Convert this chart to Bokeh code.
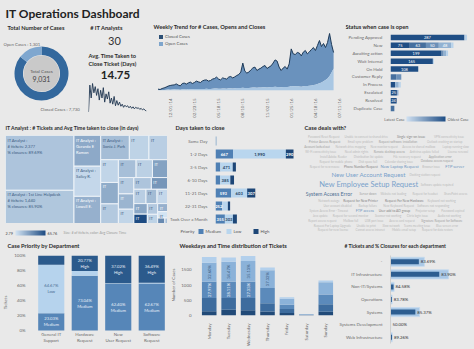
import math
import numpy as np
import pandas as pd
from bokeh.plotting import figure
from bokeh.layouts import row, column
from bokeh.models import (ColumnDataSource, Range1d, FactorRange, Legend, LegendItem,
                          FixedTicker, DatetimeTickFormatter, PrintfTickFormatter,
                          LinearColorMapper)
from bokeh.transform import transform
from bokeh.core.properties import value
from bokeh.embed import file_html
from bokeh.resources import INLINE

# ---------------- DATA ----------------
total_cases = 9031
open_cases = 1301
closed_cases = 7730
it_analysts = 30
avg_close_days = 14.75

spark_avg_days = [3, 55, 30, 58, 40, 52, 35, 48, 26, 45, 30, 50, 22, 38, 28, 42, 20, 30, 18, 33,
                  15, 25, 16, 22, 14, 18, 12, 16, 13, 15, 11, 14, 10, 13, 9, 12, 10, 11, 8, 10,
                  7, 9, 6, 5]

trend_first_week = "2014-10-20"
trend_total = [7, 5, 10, 13, 17, 22, 25, 27, 28, 33,
               27, 23, 35, 37, 32, 38, 42, 35, 40, 47,
               43, 40, 48, 52, 53, 47, 50, 57, 60, 67,
               57, 53, 63, 60, 57, 67, 70, 63, 68, 75,
               80, 92, 137, 97, 87, 92, 103, 113, 117, 100,
               107, 112, 120, 125, 110, 117, 123, 137, 153, 147,
               117, 100, 112, 120, 107, 133, 208, 183, 180, 190,
               187, 173, 192, 200, 183, 193, 205, 215, 200, 225,
               250, 220, 235, 215, 240, 285, 230, 190]
trend_open = [2, 2, 3, 3, 4, 5, 4, 5, 6, 5,
              5, 4, 6, 6, 5, 7, 6, 6, 7, 8,
              7, 7, 8, 8, 9, 8, 8, 9, 10, 10,
              9, 9, 10, 10, 9, 11, 11, 10, 11, 12,
              12, 13, 14, 13, 12, 13, 14, 15, 15, 14,
              15, 15, 16, 16, 15, 16, 17, 18, 19, 18,
              17, 16, 17, 18, 17, 19, 22, 21, 21, 22,
              20, 19, 21, 22, 22, 24, 25, 27, 29, 32,
              36, 40, 46, 52, 60, 72, 90, 110]
trend_tick_dates = ["2014-12-01", "2015-02-23", "2015-05-18", "2015-08-10",
                    "2015-11-02", "2016-01-25", "2016-04-18", "2016-07-11"]

status_names = ["Pending Approval", "New", "Awaiting action", "Wait Internal", "On Hold",
                "Customer Reply", "In Process", "Escalated", "Resolved", "Duplicate Case"]
status_oldest = [287, 75, 199, 165, 108, 0, 18, 25, 24, 0]
status_older = [0, 63, 0, 0, 0, 22, 0, 0, 0, 15]
status_mid = [0, 50, 8, 0, 0, 20, 0, 0, 0, 0]
status_recent = [5, 48, 10, 0, 0, 0, 14, 6, 0, 0]
status_latest = [6, 9, 7, 4, 0, 0, 8, 0, 0, 0]

analyst_names = ["", "1st Line Helpdesk", "Gerardo E Ramon", "Sailey R.", "Lowell E.", "Sonia J. Park",
                 "Andrea K.", "Bruno T.", "Carla V.", "Wilfredo", "Dmitri P.", "Elena S.", "Farid H.",
                 "Grace L.", "Hiro N.", "Ines B.", "Jonas W.", "Kira O.", "Luis F.", "Maya D.",
                 "Nate C.", "Olga R.", "Pavel Z.", "Quinn A.", "Rosa G.", "Sam Y.", "Tariq J.",
                 "Uma X.", "Victor Q.", "Wendy U."]
analyst_tickets = [2377, 1440, 520, 510, 460, 440, 300, 285, 255, 240, 220, 200, 185, 170, 160,
                   150, 140, 130, 120, 110, 100, 95, 90, 80, 70, 60, 50, 40, 25, 9]
analyst_avg_days = [16, 15, 27, 8, 24, 19, 10, 12, 9, 26, 14, 18, 11, 30, 13, 22, 9, 16, 35, 12,
                    20, 8, 28, 65.76, 14, 10, 24, 2.79, 40, 18]
analyst_closure_pct = [89.69, 85.90, 84.10, 91.20, 83.50, 86.40, 88.00, 87.30, 90.10, 82.60,
                       85.50, 86.90, 88.40, 81.20, 87.70, 84.00, 89.30, 86.10, 80.80, 88.20,
                       85.00, 90.50, 83.30, 75.00, 86.60, 88.90, 84.40, 95.00, 80.00, 77.80]

days_buckets = ["Same Day", "1-2 Days", "3-5 Days", "6-10 Days", "11-21 Days", "22-31 Days",
                "Took Over a Month"]
days_medium = [14, 667, 180, 175, 593, 252, 355]
days_low = [22, 1990, 471, 385, 603, 215, 303]
days_high = [6, 290, 120, 140, 307, 85, 150]

word_phrases = ["Password Reset Request", "Unable to connect to shared drive", "Single sign-on issue",
                "VPN connectivity issue", "Printer Access Request", "Email sync problem",
                "Request software installation", "Outlook crashing on startup", "Account locked out",
                "Network drive mapping", "New monitor request", "Access to shared mailbox",
                "Laptop running slow", "Wi-Fi connectivity issue", "Need admin rights",
                "Remote desktop access", "Antivirus update failed", "License renewal",
                "Install Adobe Reader", "Distribution list update", "File recovery request",
                "Application error", "Request for mobile phone", "Disk space full",
                "Calendar sharing issue", "Database access request", "Request for new mouse",
                "Phone Number Request", "New Laptop Request", "Browser issue", "FTP server",
                "New User Account Request", "Docking station request", "New Employee Setup Request",
                "Software update required", "System Access Error", "Server down",
                "Website not loading", "Request for headset", "SharePoint access", "Network outage",
                "Request for New Printer", "Request For New Hardware", "Keyboard not working",
                "User account disabled", "Backup failure", "New Keyboard Request",
                "Software not responding", "System Access Error - Timeout", "FTP access",
                "User add to AD group", "Projector setup", "Password expired", "Java update",
                "Request for second monitor", "Scanner not working", "Citrix login issue",
                "Audio not working", "Report access request", "Mailbox full", "USB port issue",
                "Access card request", "Signature Request for Software", "Request For Laptop Upgrade",
                "Unable to print", "Slow network", "Teams meeting issue", "Blue screen error",
                "Request for new license", "Cannot access intranet", "Mobile email setup",
                "Request for data restore"]
word_counts = [8, 7, 22, 9, 16, 10, 12, 6, 11, 8, 7, 10, 9, 8, 7, 12, 8, 7, 9, 8, 10, 13, 7, 8, 6,
               11, 6, 19, 55, 7, 48, 130, 8, 180, 7, 95, 12, 8, 6, 9, 10, 20, 18, 7, 8, 9, 10, 9, 6,
               40, 21, 6, 10, 6, 8, 7, 9, 6, 8, 7, 6, 8, 11, 9, 7, 6, 8, 9, 7, 8, 6, 7]

prio_depts = ["General IT Support", "Hardware Request", "New User Request", "Software Request"]
prio_medium = [23.03, 73.04, 62.40, 62.67]
prio_low = [64.67, 6.19, 0.58, 0.84]
prio_high = [12.30, 20.77, 37.02, 36.49]

weekdays = ["Monday", "Tuesday", "Wednesday", "Thursday", "Friday", "Saturday", "Sunday"]
wd_slot1 = [140, 190, 170, 130, 80, 10, 120]
wd_slot2 = [430, 380, 400, 270, 130, 10, 250]
wd_slot3 = [537, 534, 533, 499, 140, 10, 320]
wd_slot4 = [626, 655, 685, 586, 200, 8, 400]
wd_slot5 = [187, 141, 162, 85, 50, 4, 60]

dept_names = ["-", "IT Infrastructure", "Non-IT/Systems", "Operations", "Systems",
              "Systems Development", "Web Infrastructure"]
dept_tickets = [2379, 4080, 253, 111, 2044, 10, 121]
dept_closed = [1991, 3423, 214, 93, 1745, 5, 108]

# ---------------- STYLE ----------------
FONT = "Lato"
BG = "#e9e9e9"
TITLE_C = "#2b2b2b"
AX_C = "#6b6b6b"
TSIZE = "5.7px"
LSTY = {"background-color": BG}


def interp(c1, c2, n):
    a = [int(c1[i:i + 2], 16) for i in (1, 3, 5)]
    b = [int(c2[i:i + 2], 16) for i in (1, 3, 5)]
    return ["#%02x%02x%02x" % tuple(round(a[k] + (b[k] - a[k]) * t / (n - 1)) for k in range(3))
            for t in range(n)]


def make_fig(w, h, l=0, r=0, t=0, b=0, **kw):
    kw.setdefault("x_axis_location", None)
    kw.setdefault("y_axis_location", None)
    p = figure(width=w, height=h, output_backend="svg", toolbar_location=None,
               min_border_left=l, min_border_right=r, min_border_top=t, min_border_bottom=b,
               background_fill_color=BG, border_fill_color=BG, outline_line_color=None, **kw)
    p.grid.visible = False
    if "frame_align" in p.properties():
        p.frame_align = False
    return p


def pix_fig(w, h):
    return make_fig(w, h, x_range=Range1d(0, w), y_range=Range1d(0, h))


def ptext(p, X, Y, txt, size, bold=False, color="#555555", align="left", baseline="middle"):
    p.text(x=[X], y=[p.height - Y], text=[txt], text_font=value(FONT), text_font_size=value(size),
           text_font_style="bold" if bold else "normal", text_color=color,
           text_align=align, text_baseline=baseline)


def title_fig(w, h, txt, X, Y, size=TSIZE):
    p = pix_fig(w, h)
    ptext(p, X, Y, txt, size, bold=True, color=TITLE_C)
    return p


def style_axis(ax, size="4.5px", standoff=2):
    ax.axis_line_color = None
    ax.major_tick_line_color = None
    ax.minor_tick_line_color = None
    ax.major_label_text_font = FONT
    ax.major_label_text_font_size = size
    ax.major_label_text_color = AX_C
    ax.major_label_standoff = standoff


def grad_bar(p, mapper, X, Ytop, w, h):
    # colour-ramp legend drawn from the colour mapper itself
    ramp = np.linspace(mapper.low, mapper.high, 128).reshape(1, -1)
    p.image(image=[ramp], x=X, y=p.height - Ytop - h, dw=w, dh=h, color_mapper=mapper)


def lay(kind, *kids):
    return kind(*kids, styles=LSTY)


# ---------------- ROW 1 ----------------
head = pix_fig(150, 22)
ptext(head, 5, 13, "IT Operations Dashboard", "12px", bold=True, color="#222222")

donut = pix_fig(85, 100)
ptext(donut, 7, 5, "Total Number of Cases", TSIZE, bold=True, color=TITLE_C)
a0 = math.pi / 2
a1 = a0 - 2 * math.pi * closed_cases / total_cases
a2 = a1 - 2 * math.pi * open_cases / total_cases
donut.annular_wedge(x=[41, 41], y=[100 - 51, 100 - 51], inner_radius=18.5, outer_radius=27,
                    inner_radius_units="screen", outer_radius_units="screen",
                    start_angle=[a0, a1], end_angle=[a1, a2], direction="clock",
                    fill_color=["#33689d", "#7fa7cf"], line_color=None)
donut.circle(x=[41], y=[100 - 51], radius=18, radius_units="screen", fill_color="#c9c9c9",
             line_color=None)
ptext(donut, 41, 48, "Total Cases", "4.6px", color="#555555", align="center")
ptext(donut, 41, 56, f"{total_cases:,}", "7px", color="#444444", align="center")
ptext(donut, 3, 22, f"Open Cases : {open_cases:,}", "4.3px", color="#666666")
ptext(donut, 40, 87, f"Closed Cases : {closed_cases:,}", "4.3px", color="#666666")

kpi = pix_fig(65, 58)
ptext(kpi, 21, 5, "# IT Analysts", TSIZE, bold=True, color=TITLE_C, align="center")
ptext(kpi, 29, 18, f"{it_analysts}", "11px", color="#333333", align="center")
ptext(kpi, 27, 33, "Avg. Time Taken to", TSIZE, bold=True, color=TITLE_C, align="center")
ptext(kpi, 27, 40.5, "Close Ticket (Days)", TSIZE, bold=True, color=TITLE_C, align="center")
ptext(kpi, 30, 52, f"{avg_close_days:.2f}", "11.5px", bold=True, color="#222222", align="center")

spark = make_fig(65, 42, l=3, r=4, t=2, b=9, x_range=Range1d(0, len(spark_avg_days) - 1),
                 y_range=Range1d(0, 60))
spark.line(x=list(range(len(spark_avg_days))), y=spark_avg_days, line_color="#1f3650", line_width=0.9)

left_block = lay(column, head, lay(row, donut, lay(column, kpi, spark)))

# weekly trend
n_tr = len(trend_total)
trend_dates = pd.date_range(trend_first_week, periods=n_tr, freq="7D")
src_tr = ColumnDataSource(dict(date=trend_dates, zero=[0] * n_tr, open=trend_open, total=trend_total))
wk = make_fig(195, 91, l=7, r=5, t=0, b=32, x_axis_type="datetime", x_axis_location="below",
              x_range=Range1d(pd.Timestamp("2014-10-18").to_pydatetime(),
                              pd.Timestamp("2016-07-14").to_pydatetime()),
              y_range=Range1d(0, 295))
wk.varea(x="date", y1="open", y2="total", source=src_tr, fill_color="#6a92bd")
wk.varea(x="date", y1="zero", y2="open", source=src_tr, fill_color="#a9c7e3")
wk.line(x="date", y="total", source=src_tr, line_color="#1d3957", line_width=1)
ax = wk.xaxis[0]
ax.ticker = FixedTicker(ticks=[pd.Timestamp(d).value // 10 ** 6 for d in trend_tick_dates])
fmt = "%m/%d/%y"
ax.formatter = DatetimeTickFormatter(microseconds=fmt, milliseconds=fmt, seconds=fmt, minsec=fmt,
                                     minutes=fmt, hourmin=fmt, hours=fmt, days=fmt, months=fmt,
                                     years=fmt)
ax.major_label_orientation = math.pi / 2
style_axis(ax, "4.4px")
swatch = ColumnDataSource(dict(l=[pd.Timestamp("2014-01-01")], r=[pd.Timestamp("2014-01-08")],
                               t=[1], b=[0]))
q_closed = wk.quad(left="l", right="r", top="t", bottom="b", source=swatch, fill_color="#2c4f75",
                   line_color=None)
q_open = wk.quad(left="l", right="r", top="t", bottom="b", source=swatch, fill_color="#7ea5cc",
                 line_color=None)
wk.add_layout(Legend(items=[LegendItem(label="Closed Cases", renderers=[q_closed]),
                            LegendItem(label="Open Cases", renderers=[q_open])],
                     location=(1, 44), orientation="vertical", glyph_width=5, glyph_height=5,
                     label_text_font=FONT, label_text_font_size="4.3px", label_text_color="#555555",
                     label_standoff=2, label_height=5, label_width=1, spacing=2, padding=0, margin=0,
                     background_fill_alpha=0, border_line_alpha=0))
wk_block = lay(column, title_fig(195, 31, "Weekly Trend for # Cases, Opens and Closes", 3, 26), wk)

# status
age_cols = ["oldest", "older", "mid", "recent", "latest"]
age_colors = interp("#1f4e85", "#b9d3eb", 5)
src_st = ColumnDataSource(dict(status=status_names, oldest=status_oldest, older=status_older,
                               mid=status_mid, recent=status_recent, latest=status_latest))
st = make_fig(129, 79, l=38, r=0, t=0, b=0, y_axis_location="left",
              y_range=FactorRange(factors=status_names[::-1]), x_range=Range1d(0, 327))
st.hbar_stack(age_cols, y="status", height=0.7, color=age_colors, source=src_st, line_color=None)
style_axis(st.yaxis[0], "4.4px", 2)
lx, ly, lt = [], [], []
for i, s in enumerate(status_names):
    acc = 0
    for arr in (status_oldest, status_older, status_mid, status_recent, status_latest):
        v = arr[i]
        if v >= 24:
            lx.append(acc + v / 2); ly.append(s); lt.append(str(v))
        acc += v
st.text(x=lx, y=ly, text=lt, text_font=value(FONT), text_font_size=value("4px"), text_color="white",
        text_align="center", text_baseline="middle")
st_leg = pix_fig(129, 10)
st_mapper = LinearColorMapper(palette=interp("#cfe0f1", "#1f4e85", 256), low=0, high=1)
grad_bar(st_leg, st_mapper, 61, 2, 39, 5)
ptext(st_leg, 59, 4.5, "Latest Case", "4px", color="#666666", align="right")
ptext(st_leg, 102, 4.5, "Oldest Case", "4px", color="#666666")
st_block = lay(column, title_fig(129, 33, "Status when case is open", 0, 26), st, st_leg)

row1 = lay(row, left_block, wk_block, st_block)

# ---------------- ROW 2 ----------------
def squarify(vals, x, y, w, h):
    rects = []
    vals = list(vals)

    def worst(r, s):
        tot = sum(r)
        return max(max(s * s * v / (tot * tot), (tot * tot) / (s * s * v)) for v in r)

    while vals:
        short = min(w, h)
        rw = [vals[0]]
        i = 1
        while i < len(vals) and worst(rw + [vals[i]], short) <= worst(rw, short):
            rw.append(vals[i]); i += 1
        tot = sum(rw)
        if w >= h:
            cw = tot / h; cy = y
            for v in rw:
                ch = v / cw
                rects.append((x, cy, cw, ch)); cy += ch
            x += cw; w -= cw
        else:
            rh = tot / w; cx = x
            for v in rw:
                cwid = v / rh
                rects.append((cx, y, cwid, rh)); cx += cwid
            y += rh; h -= rh
        vals = vals[i:]
    return rects


TW, TH = 162, 88
tree = make_fig(167, 88, l=5, r=0, t=0, b=0, x_range=Range1d(0, TW), y_range=Range1d(TH, 0))
scale = TW * TH / sum(analyst_tickets)
rects = squarify([v * scale for v in analyst_tickets], 0, 0, TW, TH)
tree_mapper = LinearColorMapper(palette=interp("#d3e4f3", "#1d4b82", 256), low=2.79, high=65.76)
src_tree = ColumnDataSource(dict(left=[r[0] for r in rects], right=[r[0] + r[2] for r in rects],
                                 top=[r[1] for r in rects], bottom=[r[1] + r[3] for r in rects],
                                 days=analyst_avg_days))
tree.quad(left="left", right="right", top="top", bottom="bottom", source=src_tree,
          fill_color=transform("days", tree_mapper), line_color="#eef3f8", line_width=1)

CW = 1.95  # approx. width of one character at the treemap font size


def fits(line, w):
    return len(line) * CW + 2.5 <= w


def wrap(name, w):
    out, cur = [], ""
    for wd in name.split():
        cand = (cur + " " + wd).strip()
        if cur and not fits(cand, w):
            out.append(cur); cur = wd
        else:
            cur = cand
    if cur:
        out.append(cur)
    return out


tx, ty, tt, tc = [], [], [], []
for (x, y, w, h), nm, tk, pc, dd in zip(rects, analyst_names, analyst_tickets, analyst_closure_pct,
                                        analyst_avg_days):
    nl = wrap(nm, w)
    if w > 50 and h > 20:
        lines = [f"IT Analyst : {nm}".rstrip(), f"# tickets: {tk:,}", f"% closures: {pc:.2f}%"]
    elif fits("IT Analyst :", w) and h > 5 * (1 + len(nl)) and all(fits(s, w) for s in nl):
        lines = ["IT Analyst :"] + nl
    elif fits("IT Analyst", w) and h > 6:
        lines = ["IT Analyst"]
    elif fits("IT", w) and h > 6:
        lines = ["IT"]
    else:
        lines = []
    if lines:
        tx.append(x + 2); ty.append(y + 2); tt.append("\n".join(lines))
        tc.append("white" if dd > 21 else "#3a5a80")
tree.text(x=tx, y=ty, text=tt, text_color=tc, text_font=value(FONT), text_font_size=value("4.1px"),
          text_align="left", text_baseline="top")
tree_leg = pix_fig(167, 15)
grad_bar(tree_leg, tree_mapper, 15, 7, 30, 5)
ptext(tree_leg, 5, 9.5, "2.79", "3.8px", color="#444444")
ptext(tree_leg, 47, 9.5, "65.76", "3.8px", color="#444444")
ptext(tree_leg, 63, 9.5, "Size: # of tickets, color: Avg Closure Time", "3.5px", color="#9a9a9a")
tree_block = lay(column, title_fig(167, 13, "IT Analyst : # Tickets and Avg Time taken to close (in days)",
                                   5, 5, "5.2px"), tree, tree_leg)

# days taken to close
C_MED, C_LOW, C_HIGH = "#4f80b4", "#b9d6ee", "#1d4677"
src_d = ColumnDataSource(dict(bucket=days_buckets, Medium=days_medium, Low=days_low, High=days_high))
dy = make_fig(133, 91, l=43, r=4, t=0, b=0, y_axis_location="left",
              y_range=FactorRange(factors=days_buckets[::-1]), x_range=Range1d(0, 3060))
dy.hbar_stack(["Medium", "Low", "High"], y="bucket", height=0.68,
              color=[C_MED, C_LOW, C_HIGH], source=src_d, line_color=None)
style_axis(dy.yaxis[0], "4.4px", 2)
dx_, dy_, dt_, dc_ = [], [], [], []
for i, bkt in enumerate(days_buckets):
    acc = 0
    for arr, col in ((days_medium, "white"), (days_low, "#1f3f60"), (days_high, "white")):
        v = arr[i]
        if v >= 250:
            dx_.append(acc + v / 2); dy_.append(bkt); dt_.append(f"{v:,}"); dc_.append(col)
        acc += v
dy.text(x=dx_, y=dy_, text=dt_, text_color=dc_, text_font=value(FONT), text_font_size=value("4.2px"),
        text_font_style="bold", text_align="center", text_baseline="middle")
dy_leg = pix_fig(133, 13)
ptext(dy_leg, 13, 6, "Priority", "4.3px", color="#555555")
for nm, col, X in (("Medium", C_MED, 31), ("Low", C_LOW, 59), ("High", C_HIGH, 86)):
    dy_leg.quad(left=[X], right=[X + 5], top=[13 - 3.5], bottom=[13 - 8.5], fill_color=col,
                line_color=None)
    ptext(dy_leg, X + 7, 6, nm, "4.3px", color="#555555")
dy_block = lay(column, title_fig(133, 12, "Days taken to close", 8, 5), dy, dy_leg)

# word cloud
WH = 116
wc = pix_fig(174, WH)
ptext(wc, 4, 5, "Case deals with?", TSIZE, bold=True, color=TITLE_C)


def word_color(c):
    if c >= 120:
        return "#79a2cb"
    if c >= 80:
        return "#4f6f93"
    if c >= 38:
        return "#6f96bf"
    if c >= 18:
        return "#858585"
    if c >= 11:
        return "#a0a0a0"
    return "#bababa"


cmin, cmax = min(word_counts), max(word_counts)
X0, XMAX, GAP = 2, 172, 4
rows_, cur, cur_w = [], [], 0
for ph, cnt in zip(word_phrases, word_counts):
    fs = 2.9 + 4.6 * (cnt - cmin) / (cmax - cmin)
    wpx = len(ph) * fs * 0.5
    if cur and cur_w + GAP + wpx > XMAX - X0:
        rows_.append(cur); cur, cur_w = [], 0
    cur_w += (GAP if cur else 0) + wpx
    cur.append((ph, cnt, fs, wpx))
rows_.append(cur)
heights = [max(it[2] for it in rw) * 1.4 + 0.5 for rw in rows_]
avail = WH - 12 - 3
shrink = min(1.0, avail / sum(heights))
Ycur = 12
wx, wy, wt, wcol, wfs = [], [], [], [], []
for rw, lh in zip(rows_, heights):
    lh *= shrink
    totw = sum(it[3] for it in rw) + GAP * (len(rw) - 1)
    xc = X0 + ((XMAX - X0) - totw) / 2
    for ph, cnt, fs, wpx in rw:
        wx.append(xc); wy.append(WH - (Ycur + lh / 2)); wt.append(ph); wcol.append(word_color(cnt))
        wfs.append(f"{fs:.2f}px")
        xc += wpx + GAP
    Ycur += lh
wc.text(x=wx, y=wy, text=wt, text_color=wcol, text_font_size=wfs, text_font=value(FONT),
        text_align="left", text_baseline="middle")

row2 = lay(row, tree_block, dy_block, wc)

# ---------------- ROW 3 ----------------
P_MED, P_LOW, P_HIGH = "#5686b8", "#b6d3ed", "#2b5a8c"
src_p = ColumnDataSource(dict(dept=prio_depts, Medium=prio_medium, Low=prio_low, High=prio_high))
pr = make_fig(168, 98, l=28, r=0, t=4, b=0, y_axis_location="left",
              x_range=FactorRange(factors=prio_depts), y_range=Range1d(-25.3, 100))
pr.vbar_stack(["Medium", "Low", "High"], x="dept", width=0.78, color=[P_MED, P_LOW, P_HIGH],
              source=src_p, line_color=None)
pr.text(x=prio_depts, y=[-2.5] * len(prio_depts),
        text=["General IT\nSupport" if d == "General IT Support" else d.replace(" ", "\n", 1)
              for d in prio_depts],
        text_font=value(FONT), text_font_size=value("4.4px"), text_color=AX_C,
        text_align="center", text_baseline="top")
ya = pr.yaxis[0]
style_axis(ya, "4.4px", 3)
ya.ticker = FixedTicker(ticks=[0, 20, 40, 60, 80, 100])
ya.formatter = PrintfTickFormatter(format="%d%%")
ya.axis_label = "Tickets"
ya.axis_label_text_font = FONT
ya.axis_label_text_font_size = "4.4px"
ya.axis_label_text_font_style = "normal"
ya.axis_label_text_color = AX_C
ya.axis_label_standoff = 3
px_, py_, pt_, pc_ = [], [], [], []
for i, d in enumerate(prio_depts):
    acc = 0
    for arr, nm, col in ((prio_medium, "Medium", "#e8f0f8"), (prio_low, "Low", "#4d6f94"),
                         (prio_high, "High", "#e8f0f8")):
        v = arr[i]
        if v >= 20:
            px_.append(d); py_.append(acc + v / 2); pt_.append(f"{v:.2f}%\n{nm}"); pc_.append(col)
        acc += v
pr.text(x=px_, y=py_, text=pt_, text_color=pc_, text_font=value(FONT), text_font_size=value("4.2px"),
        text_align="center", text_baseline="middle")
pr_block = lay(column, title_fig(168, 13, "Case Priority by Department", 7, 7), pr)

# weekdays
wd_cols = ["s1", "s2", "s3", "s4", "s5"]
wd_colors = ["#214a78", "#3d6c9e", "#5b8abb", "#8bb2d9", "#b3d0ec"]
src_w = ColumnDataSource(dict(day=weekdays, s1=wd_slot1, s2=wd_slot2, s3=wd_slot3, s4=wd_slot4,
                              s5=wd_slot5))
wdf = make_fig(167, 95, l=28, r=0, t=0, b=33, x_axis_location="below", y_axis_location="left",
               x_range=FactorRange(factors=weekdays), y_range=Range1d(0, 2000))
wdf.vbar_stack(wd_cols, x="day", width=0.75, color=wd_colors, source=src_w, line_color=None)
xa = wdf.xaxis[0]
style_axis(xa, "4.4px", 2)
xa.major_label_orientation = math.pi / 2
ya2 = wdf.yaxis[0]
style_axis(ya2, "4.4px", 2)
ya2.ticker = FixedTicker(ticks=[0, 500, 1000, 1500])
ya2.axis_label = "Number of Cases"
ya2.axis_label_text_font = FONT
ya2.axis_label_text_font_size = "4.4px"
ya2.axis_label_text_font_style = "normal"
ya2.axis_label_text_color = AX_C
ya2.axis_label_standoff = 2
wx2, wy2, wt2, wc2 = [], [], [], []
for i, d in enumerate(weekdays):
    segs = [wd_slot1[i], wd_slot2[i], wd_slot3[i], wd_slot4[i], wd_slot5[i]]
    tot = sum(segs)
    acc = 0
    for k, v in enumerate(segs):
        if v >= 520:
            wx2.append(d); wy2.append(acc + v / 2); wt2.append(f"{100 * v / tot:.2f}%")
            wc2.append("#eef4fa" if k < 3 else "#3b5b7d")
        acc += v
wdf.text(x=wx2, y=wy2, text=wt2, text_color=wc2, angle=math.pi / 2, text_font=value(FONT),
         text_font_size=value("4.2px"), text_align="center", text_baseline="middle")
wd_block = lay(column, title_fig(167, 16, "Weekdays and Time distribution of Tickets", 11, 7), wdf)

# departments
src_dp = ColumnDataSource(dict(dept=dept_names, tickets=dept_tickets, closed=dept_closed,
                               pct=[f"{100 * c / t:.2f}%" for c, t in zip(dept_closed, dept_tickets)]))
dp = make_fig(139, 94, l=55, r=0, t=0, b=6, y_axis_location="left",
              y_range=FactorRange(factors=dept_names[::-1]), x_range=Range1d(0, 5900))
dp.hbar(y="dept", right="tickets", left=0, height=0.72, source=src_dp, fill_color="#a9c8e6",
        line_color="#c5dbef", line_width=0.8)
dp.hbar(y="dept", right="closed", left=0, height=0.4, source=src_dp, fill_color="#2d5d90",
        line_color=None)
dp.text(x="closed", y="dept", text="pct", source=src_dp, x_offset=2, text_font=value(FONT),
        text_font_size=value("4.3px"), text_color="#333333", text_align="left", text_baseline="middle")
style_axis(dp.yaxis[0], "4.4px", 2)
dp.yaxis[0].axis_line_color = "#cfcfcf"
dp_block = lay(column, title_fig(139, 17, "# Tickets and % Closures for each department", 9, 7, "5.0px"),
               dp)

row3 = lay(row, pr_block, wd_block, dp_block)

page = lay(column, row1, row2, row3)
open("out.html", "w").write(file_html(page, INLINE))
